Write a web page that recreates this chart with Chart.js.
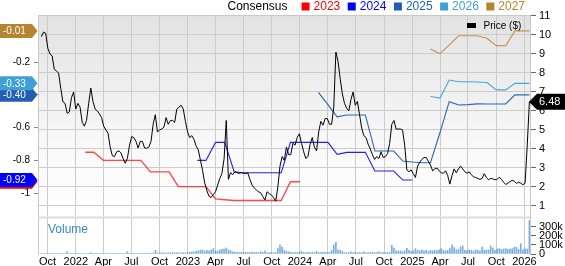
<!DOCTYPE html>
<html><head><meta charset="utf-8">
<script src="https://cdn.jsdelivr.net/npm/chart.js@4.4.0/dist/chart.umd.min.js"></script>
<style>html,body{margin:0;padding:0;background:#fff;}canvas{display:block;}</style>
</head><body>
<canvas id="c" width="565" height="266"></canvas>
<script>
// ---------------- DATA ----------------
const priceStart = '2021-09-11';           // weekly closes from this date
const priceWeekly = [
9.91,10.15,10.09,9.3,9.0,8.9,8.2,8.1,8.0,7.2,6.49,6.4,5.88,5.95,6.7,7.0,6.1,6.4,6.2,5.4,
5.2,5.5,6.4,7.2,6.5,6.1,6.0,5.85,5.65,5.2,5.0,4.83,4.1,3.65,3.6,3.85,3.9,3.8,3.5,3.25,
3.5,4.2,4.65,4.6,4.4,4.05,4.4,4.4,4.05,4.04,4.1,4.4,5.3,5.8,4.9,5.0,5.05,5.15,5.65,5.3,
5.5,5.5,5.4,6.1,6.2,6.3,6.1,5.45,4.9,4.6,4.7,4.5,4.15,3.95,3.4,2.85,2.2,1.8,1.5,1.45,
1.6,1.75,2.1,2.45,2.72,3.5,5.5,2.4,2.75,2.65,2.8,2.75,2.72,2.75,2.72,2.7,2.75,2.4,2.1,1.95,
1.84,1.75,1.7,1.5,1.32,1.75,1.65,1.58,1.45,1.25,2.0,3.1,3.6,3.4,4.1,3.7,3.7,4.3,4.2,4.6,
4.8,4.3,3.86,3.5,3.6,4.25,4.6,4.1,3.9,4.9,5.45,5.25,5.6,5.6,5.3,5.3,6.2,9.1,8.6,7.7,
6.9,6.4,6.15,6.0,6.6,7.0,6.3,6.5,5.8,5.1,4.7,4.6,4.25,4.0,3.7,3.45,3.6,3.5,3.85,3.55,
3.6,3.75,4.3,5.3,5.5,5.05,5.05,5.05,5.0,4.2,2.9,2.8,2.9,2.7,2.5,3.1,3.3,3.45,3.55,3.55,
3.35,3.15,2.85,2.95,3.0,2.85,2.75,2.72,2.85,2.6,2.15,2.6,2.95,2.75,2.95,3.1,2.95,2.8,2.72,2.8,
2.65,2.53,2.5,2.45,2.4,2.45,2.7,2.5,2.38,2.45,2.43,2.38,2.4,2.52,2.4,2.25,2.13,2.2,2.28,2.35,
2.3,2.19,2.25,2.2,2.12,2.2,4.2,6.48
];
const volumeWeeklyK = [
6,6,5,7,6,6,5,6,7,6,6,8,25,6,7,6,8,6,7,6,5,6,8,15,7,6,8,6,7,6,9,7,6,8,7,6,7,8,6,7,
25,8,7,9,8,7,8,9,7,8,9,8,10,40,12,10,14,12,11,13,12,15,12,14,13,12,15,14,16,20,25,20,30,35,40,45,30,40,35,45,
60,35,30,45,50,55,66,45,35,25,20,18,15,20,16,18,15,17,20,16,18,15,25,18,35,15,14,16,15,14,
60,100,77,40,30,25,20,15,18,16,20,30,17,15,18,16,20,15,30,18,16,20,17,15,18,40,100,128,45,40,
30,15,14,16,25,15,18,14,16,15,25,14,16,15,18,14,16,25,15,14,16,18,15,95,66,35,30,35,25,35,
62,40,30,35,58,40,35,45,35,40,30,40,35,40,35,45,58,40,35,40,60,100,70,45,50,77,88,40,35,45,
40,30,45,40,35,77,45,40,45,88,65,40,55,60,50,55,60,50,55,60,73,75,50,113,45,58,55,366
];
// consensus EPS estimates, monthly from the start month
const eps2023Start = '2022-02';
const eps2023 = [-0.75,-0.75,-0.80,-0.80,-0.80,-0.80,-0.80,-0.87,-0.87,-0.87,-0.96,-0.96,-0.96,-0.96,-1.035,-1.04,-1.045,-1.045,-1.045,-1.045,-1.045,-1.045,-0.93,-0.93];
const eps2024Start = '2023-02';
const eps2024 = [-0.80,-0.80,-0.69,-0.69,-0.87,-0.875,-0.875,-0.875,-0.875,-0.875,-0.69,-0.69,-0.69,-0.69,-0.69,-0.763,-0.751,-0.751,-0.751,-0.865,-0.865,-0.865,-0.92,-0.92];
const eps2025Start = '2024-03';
const eps2025 = [-0.385,-0.46,-0.534,-0.523,-0.523,-0.523,-0.743,-0.743,-0.743,-0.804,-0.81,-0.814,-0.814,-0.63,-0.442,-0.462,-0.46,-0.455,-0.456,-0.456,-0.456,-0.40,-0.40];
const eps2026Start = '2025-03';
const eps2026 = [-0.41,-0.42,-0.31,-0.32,-0.32,-0.322,-0.325,-0.37,-0.37,-0.33,-0.33];
const eps2027Start = '2025-03';
const eps2027 = [-0.12,-0.15,-0.095,-0.04,-0.04,-0.04,-0.055,-0.10,-0.10,-0.01,-0.01];

const seriesNames = ['2023','2024','2025','2026','2027'];
const xTickMonths = ['2021-10','2022-01','2022-04','2022-07','2022-10','2023-01','2023-04','2023-07','2023-10','2024-01','2024-04','2024-07','2024-10','2025-01','2025-04','2025-07','2025-10','2026-01'];
const xTickLabels = ['Oct','2022','Apr','Jul','Oct','2023','Apr','Jul','Oct','2024','Apr','Jul','Oct','2025','Apr','Jul','Oct','2026'];
const priceTicks = [1,2,3,4,5,6,7,8,9,10,11];
const epsTicks = [-0.2,-0.4,-0.6,-0.8,-1];
const volTicksK = [0,100,200,300];
const xMinDate = '2021-08-31', xMaxDate = '2026-01-19';

// ---------------- STYLE ----------------
const legendColors = ['#ff0000','#0000ff','#1f5fb4','#3fa0d3','#b5852f'];
const lineColors = ['rgba(255,40,40,0.85)','#2222ee','#2a68b4','#4aa6da','#c39453'];
const FONT = '"Liberation Sans", Arial, sans-serif';

// ---------------- HELPERS ----------------
const ORIGIN = Date.UTC(2021, 9, 1);
function dayOf(s){ const p = s.split('-').map(Number); return (Date.UTC(p[0], p[1]-1, p[2]||1) - ORIGIN)/864e5; }
function monthDay(start, k){ const p = start.split('-').map(Number); return (Date.UTC(p[0], p[1]-1+k, 1) - ORIGIN)/864e5; }
const d0 = dayOf(priceStart);
const endDay = d0 + 7*(priceWeekly.length-1);
const pricePts = priceWeekly.map((v,i)=>({x:d0+7*i, y:v}));
const volPts = volumeWeeklyK.map((v,i)=>({x:d0+7*i, y:v}));
function epsPts(start, arr, extend){
  const pts = arr.map((v,k)=>({x:monthDay(start,k), y:v}));
  if (extend) pts.push({x:endDay, y:arr[arr.length-1]});
  return pts;
}
const epsSeries = [
  {name:'2023', pts:epsPts(eps2023Start, eps2023, false), last:eps2023[eps2023.length-1]},
  {name:'2024', pts:epsPts(eps2024Start, eps2024, false), last:eps2024[eps2024.length-1]},
  {name:'2025', pts:epsPts(eps2025Start, eps2025, true), last:eps2025[eps2025.length-1]},
  {name:'2026', pts:epsPts(eps2026Start, eps2026, true), last:eps2026[eps2026.length-1]},
  {name:'2027', pts:epsPts(eps2027Start, eps2027, true), last:eps2027[eps2027.length-1]},
];
function noPad(s){ s.paddingLeft = 0; s.paddingRight = 0; s.paddingTop = 0; s.paddingBottom = 0; }

// ---------------- PLUGINS ----------------
const bgPlugin = {
  id:'bg',
  beforeDraw(chart){
    const {ctx, chartArea:a} = chart; const ps = chart.scales.price;
    ctx.save();
    const g = ctx.createLinearGradient(0, a.top, 0, ps.bottom);
    g.addColorStop(0,'#e2e2e2'); g.addColorStop(0.65,'#f9f9f9'); g.addColorStop(1,'#ffffff');
    ctx.fillStyle = g; ctx.fillRect(a.left, a.top, a.right-a.left, ps.bottom-a.top);
    ctx.restore();
  },
  beforeDatasetsDraw(chart){
    const {ctx, chartArea:a} = chart; const ps = chart.scales.price;
    ctx.save();
    ctx.fillStyle = '#dcdcdc';
    ctx.fillRect(a.left, ps.bottom-0.5, a.right-a.left, 2);
    ctx.strokeStyle = '#c8c8c8'; ctx.lineWidth = 1;
    ctx.beginPath(); ctx.moveTo(a.left, a.top+0.5); ctx.lineTo(a.right, a.top+0.5); ctx.stroke();
    ctx.restore();
  },
  afterDraw(chart){
    const {ctx, chartArea:a} = chart;
    const eps = chart.scales.eps, ps = chart.scales.price;
    ctx.save();
    function flagL(y, color, text){
      ctx.fillStyle = color;
      ctx.beginPath();
      ctx.moveTo(0, y-7); ctx.lineTo(32, y-7); ctx.lineTo(37.5, y); ctx.lineTo(32, y+7); ctx.lineTo(0, y+7);
      ctx.closePath(); ctx.fill();
      ctx.fillStyle = '#fff'; ctx.font = '10px '+FONT; ctx.textAlign='left'; ctx.textBaseline='middle';
      ctx.fillText(text, 3, y+0.5);
    }
    [0,1,2,3,4].forEach(i=>{
      const s = epsSeries[i];
      flagL(eps.getPixelForValue(s.last), legendColors[i], s.last.toFixed(2));
    });
    const lastP = priceWeekly[priceWeekly.length-1];
    const py = ps.getPixelForValue(lastP);
    ctx.fillStyle = '#000';
    ctx.beginPath();
    ctx.moveTo(a.right-1, py); ctx.lineTo(a.right+7, py-8); ctx.lineTo(565, py-8); ctx.lineTo(565, py+8); ctx.lineTo(a.right+7, py+8);
    ctx.closePath(); ctx.fill();
    ctx.fillStyle = '#fff'; ctx.font = '11px '+FONT; ctx.textAlign='left'; ctx.textBaseline='middle';
    ctx.fillText(lastP.toFixed(2), a.right+9, py+0.5);
    ctx.font = '12px '+FONT; ctx.textBaseline='middle';
    let x = 227.5; const ly = 6.5;
    ctx.fillStyle = '#000'; ctx.fillText('Consensus', x, ly);
    x += ctx.measureText('Consensus').width + 14;
    seriesNames.forEach((n,i)=>{
      ctx.fillStyle = legendColors[i];
      ctx.fillRect(x, 2.5, 8, 8);
      ctx.fillText(n, x+12, ly);
      x += 12 + ctx.measureText(n).width + 7.5;
    });
    ctx.fillStyle = '#000';
    ctx.fillRect(467, 23, 9, 5);
    ctx.font = '10px '+FONT; ctx.fillText('Price ($)', 483.5, 26);
    ctx.fillStyle = '#3a87c8'; ctx.font = '12px '+FONT;
    ctx.fillText('Volume', 48, 229.5);
    ctx.restore();
  }
};

// ---------------- CHART ----------------
const datasets = [
  {type:'line', label:'Price ($)', data:pricePts, xAxisID:'x', yAxisID:'price', borderColor:'#000', borderWidth:1, pointRadius:0, tension:0, order:0},
];
epsSeries.forEach((s,i)=>{
  datasets.push({type:'line', label:s.name, data:s.pts, xAxisID:'x', yAxisID:'eps', borderColor:lineColors[i], borderWidth:i===0?1.4:1.1, pointRadius:0, tension:0, order:1+i});
});
datasets.push({type:'bar', label:'Volume', data:volPts, xAxisID:'x', yAxisID:'vol', backgroundColor:'rgba(80,148,212,0.75)', barThickness:1, order:10});

new Chart(document.getElementById('c'), {
  data:{datasets},
  options:{
    responsive:false, animation:false, devicePixelRatio:1, parsing:false,
    layout:{padding:{top:15, left:0, right:0, bottom:0}},
    plugins:{legend:{display:false}, tooltip:{enabled:false}},
    scales:{
      x:{type:'linear', position:'bottom', offset:false, min:dayOf(xMinDate), max:dayOf(xMaxDate),
         afterFit(s){ s.height = 12; noPad(s); },
         afterBuildTicks(s){ s.ticks = xTickMonths.map(m=>({value:dayOf(m)})); },
         grid:{color:'#cccccc', drawTicks:false, offset:false}, border:{display:false},
         ticks:{font:{family:FONT, size:11}, color:'#000', padding:1, maxRotation:0, autoSkip:false,
                callback:(v,i)=>xTickLabels[i]}},
      eps:{type:'linear', position:'left', min:-1.371, max:0.087,
         afterFit(s){ s.width = 38; noPad(s); },
         afterBuildTicks(s){ s.ticks = epsTicks.map(v=>({value:v})); },
         grid:{drawOnChartArea:false, drawTicks:true, tickLength:4, tickColor:'#888'},
         border:{display:true, color:'#c8c8c8'},
         ticks:{font:{family:FONT, size:10}, color:'#000', padding:4, autoSkip:false,
                callback:v=> v===-1 ? '-1' : v.toFixed(1)}},
      price:{type:'linear', position:'right', stack:'r', stackWeight:202, min:0.42, max:11.05,
         afterFit(s){ s.width = 35; noPad(s); },
         afterBuildTicks(s){ s.ticks = priceTicks.map(v=>({value:v})); },
         grid:{color:'#cccccc', tickLength:6, tickColor:'#666'},
         border:{display:true, color:'#c8c8c8'},
         ticks:{font:{family:FONT, size:11}, color:'#000', padding:3, autoSkip:false}},
      vol:{type:'linear', position:'right', stack:'r', stackWeight:37, min:0, max:406,
         afterFit(s){ s.width = 35; noPad(s); },
         afterBuildTicks(s){ s.ticks = volTicksK.map(v=>({value:v})); },
         grid:{drawOnChartArea:false, tickLength:6, tickColor:'#666'},
         border:{display:true, color:'#c8c8c8'},
         ticks:{font:{family:FONT, size:11}, color:'#000', padding:3, autoSkip:false,
                callback:v=> v===0 ? '0' : v+'k'}}
    }
  },
  plugins:[bgPlugin]
});
</script>
</body></html>
